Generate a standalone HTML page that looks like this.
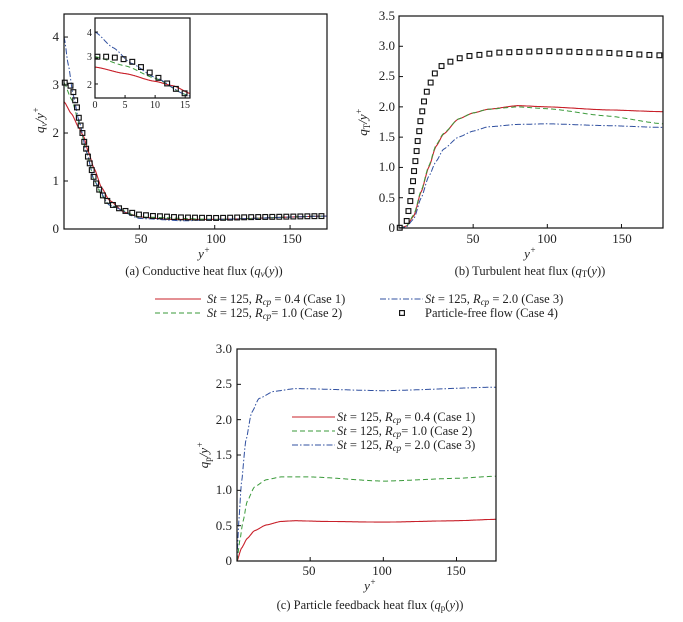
<!DOCTYPE html>
<html><head><meta charset="utf-8"><style>
body{margin:0;background:#fff;width:683px;height:622px;overflow:hidden}
svg{display:block}
text{font-family:"Liberation Serif",serif;fill:#222}
</style></head><body>
<svg id="s" width="683" height="622" viewBox="0 0 683 622" xmlns="http://www.w3.org/2000/svg">
<g id="g"></g>
<g font-size="13" text-anchor="end">
<text x="59" y="233">0</text><text x="59" y="185">1</text><text x="59" y="137">2</text><text x="59" y="89">3</text><text x="59" y="41">4</text>
</g>
<g font-size="13" text-anchor="middle">
<text x="141" y="243">50</text><text x="216" y="243">100</text><text x="292" y="243">150</text>
<text x="204" y="258" font-style="italic">y<tspan dy="-5" font-size="9">+</tspan></text>
</g>
<text transform="translate(44,120) rotate(-90)" font-size="13" text-anchor="middle" font-style="italic">q<tspan font-size="9" dy="3">v</tspan><tspan dy="-3">/y</tspan><tspan dy="-5" font-size="9">+</tspan></text>
<text x="204" y="275" font-size="12.5" text-anchor="middle">(a) Conductive heat flux (<tspan font-style="italic">q</tspan><tspan font-size="9" font-style="italic" dy="2">v</tspan><tspan dy="-2">(</tspan><tspan font-style="italic">y</tspan>))</text>
<g font-size="10" text-anchor="end">
<text x="92" y="36">4</text><text x="92" y="60">3</text><text x="92" y="88">2</text>
</g>
<g font-size="10" text-anchor="middle">
<text x="95" y="108">0</text><text x="125" y="108">5</text><text x="155" y="108">10</text><text x="185" y="108">15</text>
</g>
<g font-size="13" text-anchor="end">
<text x="395" y="232">0</text><text x="395" y="202">0.5</text><text x="395" y="171">1.0</text><text x="395" y="141">1.5</text><text x="395" y="111">2.0</text><text x="395" y="80">2.5</text><text x="395" y="50">3.0</text><text x="395" y="20">3.5</text>
</g>
<g font-size="13" text-anchor="middle">
<text x="473" y="243">50</text><text x="547" y="243">100</text><text x="622" y="243">150</text>
<text x="530" y="258" font-style="italic">y<tspan dy="-5" font-size="9">+</tspan></text>
</g>
<text transform="translate(367,122) rotate(-90)" font-size="13" text-anchor="middle" font-style="italic">q<tspan font-size="9" dy="3" font-style="normal">T</tspan><tspan dy="-3">/y</tspan><tspan dy="-5" font-size="9">+</tspan></text>
<text x="530" y="275" font-size="12.5" text-anchor="middle">(b) Turbulent heat flux (<tspan font-style="italic">q</tspan><tspan font-size="9" dy="2">T</tspan><tspan dy="-2">(</tspan><tspan font-style="italic">y</tspan>))</text>
<g font-size="12.5">
<text x="207" y="303"><tspan font-style="italic">St</tspan> = 125, <tspan font-style="italic">R</tspan><tspan font-size="9" font-style="italic" dy="2">cp</tspan><tspan dy="-2"> = 0.4 (Case 1)</tspan></text>
<text x="207" y="317"><tspan font-style="italic">St</tspan> = 125, <tspan font-style="italic">R</tspan><tspan font-size="9" font-style="italic" dy="2">cp</tspan><tspan dy="-2">= 1.0 (Case 2)</tspan></text>
<text x="425" y="303"><tspan font-style="italic">St</tspan> = 125, <tspan font-style="italic">R</tspan><tspan font-size="9" font-style="italic" dy="2">cp</tspan><tspan dy="-2"> = 2.0 (Case 3)</tspan></text>
<text x="425" y="317">Particle-free flow (Case 4)</text>
</g>
<g font-size="13" text-anchor="end">
<text x="232" y="565">0</text><text x="232" y="530">0.5</text><text x="232" y="494">1.0</text><text x="232" y="459">1.5</text><text x="232" y="424">2.0</text><text x="232" y="388">2.5</text><text x="232" y="353">3.0</text>
</g>
<g font-size="13" text-anchor="middle">
<text x="309" y="575">50</text><text x="382" y="575">100</text><text x="456" y="575">150</text>
<text x="370" y="590" font-style="italic">y<tspan dy="-5" font-size="9">+</tspan></text>
</g>
<text transform="translate(208,455) rotate(-90)" font-size="13" text-anchor="middle" font-style="italic">q<tspan font-size="9" dy="3" font-style="normal">p</tspan><tspan dy="-3">/y</tspan><tspan dy="-5" font-size="9">+</tspan></text>
<text x="370" y="609" font-size="12.5" text-anchor="middle">(c) Particle feedback heat flux (<tspan font-style="italic">q</tspan><tspan font-size="9" dy="2">p</tspan><tspan dy="-2">(</tspan><tspan font-style="italic">y</tspan>))</text>
<g font-size="12.5">
<text x="337" y="421"><tspan font-style="italic">St</tspan> = 125, <tspan font-style="italic">R</tspan><tspan font-size="9" font-style="italic" dy="2">cp</tspan><tspan dy="-2"> = 0.4 (Case 1)</tspan></text>
<text x="337" y="435"><tspan font-style="italic">St</tspan> = 125, <tspan font-style="italic">R</tspan><tspan font-size="9" font-style="italic" dy="2">cp</tspan><tspan dy="-2">= 1.0 (Case 2)</tspan></text>
<text x="337" y="449"><tspan font-style="italic">St</tspan> = 125, <tspan font-style="italic">R</tspan><tspan font-size="9" font-style="italic" dy="2">cp</tspan><tspan dy="-2"> = 2.0 (Case 3)</tspan></text>
</g>
</svg>
<script>
var NS="http://www.w3.org/2000/svg",G=document.getElementById("g");
function el(t,a){var e=document.createElementNS(NS,t);for(var k in a)e.setAttribute(k,a[k]);G.appendChild(e);return e;}
function interp(T,x){for(var i=0;i<T.length-1;i++){if(x<=T[i+1][0]){var a=T[i],b=T[i+1];var t=(x-a[0])/(b[0]-a[0]);var s=t*t*(3-2*t);s=0.5*t+0.5*s;return a[1]+(b[1]-a[1])*s;}}return T[T.length-1][1];}
var RED="#c8202a",GRN="#3a9a3a",BLU="#3050a0";
var sty={r:{stroke:RED,"stroke-width":1.1,fill:"none"},g:{stroke:GRN,"stroke-width":1,fill:"none","stroke-dasharray":"5,3"},b:{stroke:BLU,"stroke-width":1,fill:"none","stroke-dasharray":"6,2,1.5,2"}};
function line(P,T,key,x0,x1){var d="";for(var x=x0;x<=x1+1e-9;x+=(x1-x0)/300){var px=P.X(x),py=P.Y(interp(T,x));if(py<P.top)py=P.top;d+=(d?"L":"M")+px.toFixed(1)+","+py.toFixed(1);}
var a=JSON.parse(JSON.stringify(sty[key]));a.d=d;el("path",a);}
function sq(px,py){el("rect",{x:px-2.4,y:py-2.4,width:4.8,height:4.8,fill:"none",stroke:"#111","stroke-width":1.15});}
function squaresArc(P,T,x0,x1,step,minDx){var lx=P.X(x0),ly=P.Y(interp(T,x0));sq(lx,ly);var acc=0,px=lx,py=ly,lastX=lx;
for(var x=x0;x<=x1;x+=0.02){var nx=P.X(x),ny=P.Y(interp(T,x));acc+=Math.hypot(nx-px,ny-py);px=nx;py=ny;if(acc>=step&&nx-lastX>=minDx){sq(nx,ny);acc=0;lastX=nx;}}}
function box(x,y,w,h){el("rect",{x:x,y:y,width:w,height:h,fill:"none",stroke:"#111","stroke-width":1.2});}
function ticks(P,xt,yt,len){xt.forEach(function(v){var x=P.X(v);el("line",{x1:x,x2:x,y1:P.bot,y2:P.bot-len,stroke:"#111"});});yt.forEach(function(v){var y=P.Y(v);el("line",{x1:P.left,x2:P.left+len,y1:y,y2:y,stroke:"#111"});});}
function mk(l,r,t,b,x0,x1,y0,y1){return {left:l,top:t,bot:b,X:function(x){return l+(x-x0)/(x1-x0)*(r-l);},Y:function(y){return b-(y-y0)/(y1-y0)*(b-t);}};}
var A=mk(64,327,14,229,0,174.5,0,4.48);
var aS=[[0,3.05],[2,3.05],[4,3.0],[6,2.87],[8,2.62],[10,2.3],[12,2.02],[14,1.75],[16,1.5],[18,1.26],[20,1.06],[22,0.9],[25,0.72],[30,0.55],[35,0.45],[40,0.38],[50,0.3],[60,0.27],[80,0.24],[100,0.23],[130,0.25],[175,0.27]];
var aR=[[0,2.65],[5,2.4],[10,2.1],[13,1.93],[16,1.62],[20,1.26],[25,0.86],[30,0.6],[40,0.35],[50,0.25],[70,0.2],[100,0.2],[175,0.27]];
var aG=[[0,3.05],[5,2.7],[10,2.22],[15,1.6],[20,1.02],[25,0.7],[30,0.5],[50,0.25],[100,0.2],[175,0.27]];
var aB=[[0,4.0],[3,3.4],[6,2.8],[10,2.25],[15,1.6],[20,1.0],[30,0.5],[50,0.22],[80,0.17],[100,0.2],[175,0.27]];
line(A,aR,"r",0,174.5);line(A,aG,"g",0,174.5);line(A,aB,"b",0,174.5);
squaresArc(A,aS,0.5,174.5,7,1.8);
box(64,14,263,215);ticks(A,[50,100,150],[1,2,3,4],4);
el("rect",{x:95,y:18,width:95,height:80,fill:"#fff",stroke:"none"});
var I=mk(95,190,18,98,0,15.8,1.46,4.54);
line(I,aR,"r",0,15.8);line(I,aG,"g",0,15.8);line(I,aB,"b",0,15.8);
var xs=[];for(var x=0.4;x<16;x+=1.45)xs.push(x);xs.forEach(function(v){sq(I.X(v),I.Y(interp(aS,v)));});
box(95,18,95,80);ticks(I,[5,10,15],[2,3,4],3);
var B=mk(399,663,16,228,0,178,0,3.5);
var bS=[[0,0],[2,0.02],[5,0.1],[7,0.35],[9,0.7],[11,1.1],[13,1.5],[15,1.85],[17,2.1],[20,2.35],[25,2.58],[30,2.7],[40,2.8],[50,2.85],[70,2.9],[100,2.92],[130,2.9],[178,2.85]];
var bR=[[0,0],[5,0.03],[10,0.2],[15,0.6],[20,1.0],[25,1.35],[30,1.55],[40,1.8],[50,1.9],[60,1.96],[80,2.02],[100,2.0],[140,1.95],[178,1.92]];
var bG=[[0,0],[5,0.03],[10,0.22],[15,0.62],[20,1.02],[25,1.37],[30,1.56],[40,1.8],[50,1.9],[60,1.96],[80,2.0],[100,1.97],[140,1.85],[178,1.72]];
var bB=[[0,0],[5,0.02],[10,0.15],[15,0.5],[20,0.85],[25,1.1],[30,1.3],[40,1.5],[50,1.6],[60,1.67],[80,1.71],[100,1.72],[140,1.69],[178,1.66]];
line(B,bR,"r",0,178);line(B,bG,"g",0,178);line(B,bB,"b",0,178);
squaresArc(B,bS,0.5,178,10,0.5);
box(399,16,264,212);ticks(B,[50,100,150],[0.5,1,1.5,2,2.5,3],4);
el("line",{x1:155,x2:201,y1:299,y2:299,stroke:RED,"stroke-width":1.1});
el("line",{x1:155,x2:201,y1:313,y2:313,stroke:GRN,"stroke-dasharray":"5,3"});
el("line",{x1:380,x2:423,y1:299,y2:299,stroke:BLU,"stroke-dasharray":"6,2,1.5,2"});
sq(402,313);
var C=mk(237,496,349,561,0,177,0,3.0);
var cR=[[0,0],[3,0.18],[7,0.32],[12,0.43],[20,0.51],[30,0.56],[40,0.57],[60,0.56],[100,0.55],[150,0.57],[177,0.59]];
var cG=[[0,0],[2,0.3],[4,0.55],[7,0.85],[12,1.05],[20,1.15],[30,1.19],[50,1.19],[100,1.13],[150,1.17],[177,1.2]];
var cB=[[0,0],[1,0.5],[3,1.1],[6,1.7],[10,2.1],[15,2.3],[25,2.4],[40,2.44],[100,2.41],[177,2.46]];
line(C,cR,"r",0,177);line(C,cG,"g",0,177);line(C,cB,"b",0,177);
box(237,349,259,212);ticks(C,[50,100,150],[0.5,1,1.5,2,2.5],4);
el("line",{x1:292,x2:335,y1:417,y2:417,stroke:RED,"stroke-width":1.1});
el("line",{x1:292,x2:335,y1:431,y2:431,stroke:GRN,"stroke-dasharray":"5,3"});
el("line",{x1:292,x2:335,y1:445,y2:445,stroke:BLU,"stroke-dasharray":"6,2,1.5,2"});
</script>
</body></html>
